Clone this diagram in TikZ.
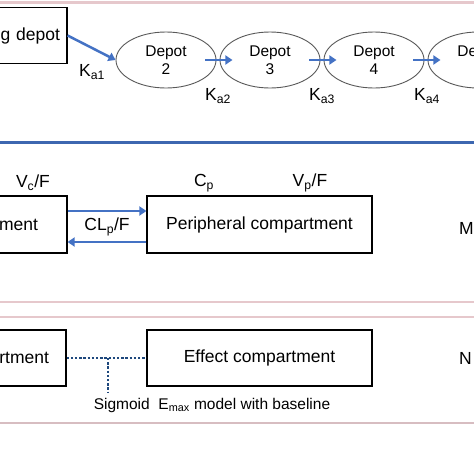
\documentclass[tikz,border=0pt]{standalone}
\usepackage{fontspec}
\setmainfont{Liberation Sans}
\usetikzlibrary{shapes.geometric,arrows.meta}
\definecolor{pkblue}{RGB}{68,114,196}
\definecolor{rulepink}{RGB}{230,200,204}
\definecolor{dotblue}{RGB}{30,72,125}
\begin{document}
\begin{tikzpicture}[x=1pt,y=-1pt]
\useasboundingbox (0,0) rectangle (474,474);
\clip (0,0) rectangle (474,474);

% font sizes
\def\fbig{\fontsize{17.5}{20}\selectfont}
\def\fsmall{\fontsize{15.5}{18}\selectfont}
% node style definition
\tikzstyle{block} = [
	draw, line width=1.2pt, rectangle, inner sep=0pt,
	minimum height=56pt, font=\fbig ];
\tikzstyle{depot} = [
	draw=black!65, line width=0.9pt, ellipse, inner sep=0pt,
	minimum width=100pt, minimum height=56pt, align=center, font=\fsmall ];
\tikzstyle{flow} = [-{Triangle[length=7pt,width=9pt]}, line width=2.5pt, pkblue];
\tikzstyle{link} = [line width=2.6pt, dotblue, dash pattern=on 2.4pt off 1.8pt];
\tikzstyle{plain} = [draw=none, fill=none, inner sep=0pt, font=\fbig];
\tikzstyle{sep} = [line width=1.2pt, rulepink];

% section rules
\draw[sep, line width=3pt] (0,2) -- (474,2);
\draw[line width=3pt, pkblue!90!black] (0,142) -- (474,142);
\draw[sep] (0,302) -- (474,302);
\draw[sep] (0,317) -- (474,317);
\draw[sep, rulepink!85!gray, line width=1.5pt] (0,423) -- (474,423);

% absorption chain
\node[block, minimum width=110pt, text width=96pt, align=right] (dose) at (12,35.5) {g depot};
\node[depot] (d2) at (166,60) {Depot\\2};
\node[depot] (d3) at (270,60) {Depot\\3};
\node[depot] (d4) at (374,60) {Depot\\4};
\node[depot] (d5) at (478,60) {Depot\\5};

\draw[flow] (dose.east) -- (d2.west);
\draw[flow] ([xshift=-11pt]d2.east) -- ([xshift=16pt]d2.east);
\draw[flow] ([xshift=-11pt]d3.east) -- ([xshift=16pt]d3.east);
\draw[flow] ([xshift=-11pt]d4.east) -- ([xshift=16pt]d4.east);

\node[plain] (ka1) at (92,72) {K\textsubscript{a1}};
\node[plain] (ka2) at (218,96) {K\textsubscript{a2}};
\node[plain] (ka3) at (322,96) {K\textsubscript{a3}};
\node[plain] (ka4) at (427,96) {K\textsubscript{a4}};

% PK model
\node[block, minimum width=110pt, minimum height=57pt, text width=52pt, align=right] (cen) at (12,224.5) {ment};
\node[block, minimum width=225pt, minimum height=57pt] (per) at (259.5,224.5) {Peripheral compartment};

\draw[flow] ([yshift=13.5pt]cen.east) -- ([yshift=13.5pt]per.west);
\draw[flow] ([yshift=-17.5pt]per.west) -- ([yshift=-17.5pt]cen.east);

\node[plain] (vc) at (33,183) {V\textsubscript{c}/F};
\node[plain] (cp) at (204,183) {C\textsubscript{p}};
\node[plain] (vp) at (310,183) {V\textsubscript{p}/F};
\node[plain] (clp) at (107,227) {CL\textsubscript{p}/F};
\node[plain, anchor=west] (pk) at (459,228) {M};

% PD model
\node[block, minimum width=110pt, text width=76pt, align=right] (cen2) at (11,358) {rtment};
\node[block, minimum width=225pt] (eff) at (259.5,358) {Effect compartment};

\draw[link] (cen2.east) -- (eff.west);
\coordinate (tee) at (108,358);
\node[plain, font=\fsmall] (emax) at (212,405) {Sigmoid\ \ E\textsubscript{max} model with baseline};
\draw[link] (tee) -- ([yshift=5pt]tee |- emax.north);
\node[plain, anchor=west] (pd) at (459,358) {N};

\end{tikzpicture}
\end{document}
